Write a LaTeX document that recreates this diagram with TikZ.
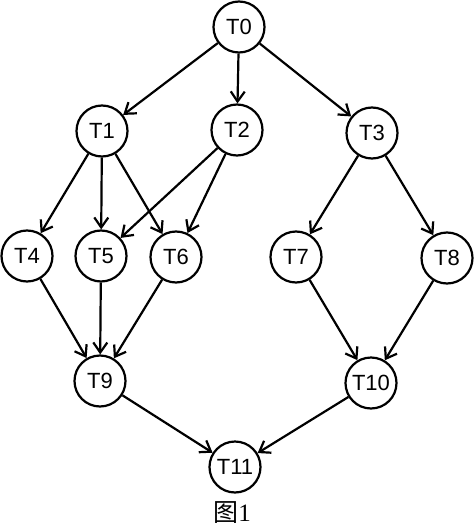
\documentclass[tikz,border=0pt]{standalone}
\usepackage{fontspec}
\setmainfont{Liberation Sans}
\newfontfamily\cjk{Noto Sans CJK SC}
\newfontfamily\capserif{Liberation Serif}
\usetikzlibrary{arrows.meta}
\begin{document}
\begin{tikzpicture}[x=1pt,y=-1pt,
  task/.style={circle,draw,line width=2.2pt,minimum size=51pt,inner sep=0pt,font=\fontsize{22}{22}\selectfont},
  edge/.style={line width=2.2pt,-{Straight Barb[length=10pt,width=14pt,line width=2.2pt]}}]
\useasboundingbox (0,0) rectangle (474,527);
\node[task] (T0) at (239,27) {T0};
\node[task] (T1) at (102,131) {T1};
\node[task] (T2) at (237,130) {T2};
\node[task] (T3) at (372,133) {T3};
\node[task] (T4) at (27,256) {T4};
\node[task] (T5) at (101,256) {T5};
\node[task] (T6) at (176,257) {T6};
\node[task] (T7) at (296,257) {T7};
\node[task] (T8) at (447,258) {T8};
\node[task] (T9) at (100,381) {T9};
\node[task] (T10) at (371,383) {T10};
\node[task] (T11) at (235,467) {T11};
\node (cap) at (232,513) {\fontsize{25}{25}\selectfont{\cjk 图}{\capserif 1}};
\draw[edge] (T0) -- (T1);
\draw[edge] (T0) -- (T2);
\draw[edge] (T0) -- (T3);
\draw[edge] (T1) -- (T4);
\draw[edge] (T1) -- (T5);
\draw[edge] (T1) -- (T6);
\draw[edge] (T2) -- (T5);
\draw[edge] (T2) -- (T6);
\draw[edge] (T3) -- (T7);
\draw[edge] (T3) -- (T8);
\draw[edge] (T4) -- (T9);
\draw[edge] (T5) -- (T9);
\draw[edge] (T6) -- (T9);
\draw[edge] (T7) -- (T10);
\draw[edge] (T8) -- (T10);
\draw[edge] (T9) -- (T11);
\draw[edge] (T10) -- (T11);
\end{tikzpicture}
\end{document}
